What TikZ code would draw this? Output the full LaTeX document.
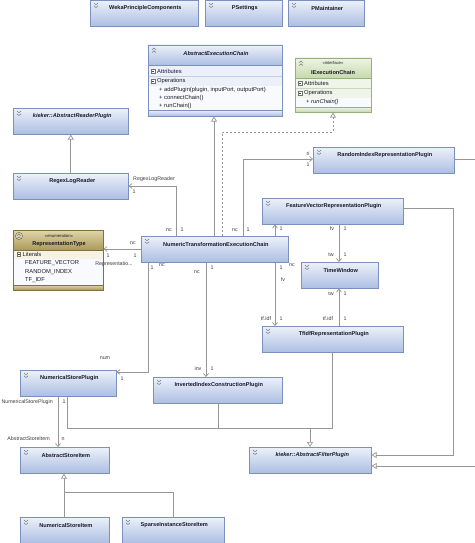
\documentclass[tikz,border=0pt]{standalone}
\usepackage{fontspec}
\setmainfont{Liberation Sans}
\usetikzlibrary{arrows.meta,calc}
\definecolor{bxtop}{RGB}{236,241,250}
\definecolor{bxbot}{RGB}{172,190,226}
\definecolor{bxline}{RGB}{124,144,190}
\definecolor{gntop}{RGB}{238,244,228}
\definecolor{gnbot}{RGB}{198,218,172}
\definecolor{gnline}{RGB}{150,176,126}
\definecolor{khtop}{RGB}{224,214,170}
\definecolor{khbot}{RGB}{170,154,90}
\definecolor{khline}{RGB}{128,114,60}
\definecolor{connc}{RGB}{150,150,150}
\definecolor{txt}{RGB}{25,25,40}
\definecolor{lbl}{RGB}{60,60,60}
\definecolor{bodyc}{RGB}{248,250,253}
\definecolor{rowc}{RGB}{236,240,248}
\definecolor{rowg}{RGB}{240,245,234}
\definecolor{rowk}{RGB}{246,242,228}
\tikzset{
 box/.style={draw=bxline, line width=0.6pt, top color=bxtop, bottom color=bxbot, inner sep=0pt, anchor=north west, minimum height=26pt},
 frame/.style={draw=#1, line width=0.6pt, inner sep=0pt, anchor=north west},
 cname/.style={font=\fontsize{5.6}{6.5}\selectfont\bfseries, text=txt, inner sep=0pt},
 iname/.style={font=\fontsize{5.6}{6.5}\selectfont\bfseries\itshape, text=txt, inner sep=0pt},
 stereo/.style={font=\fontsize{4.2}{5}\selectfont, text=txt, inner sep=0pt},
 lab/.style={font=\fontsize{5.3}{6}\selectfont, text=lbl, inner sep=0pt},
 member/.style={font=\fontsize{5.8}{6.5}\selectfont, text=txt, inner sep=0pt, anchor=west},
 chev/.style={draw=black!55, line width=0.45pt},
 connl/.style={draw=connc, line width=0.7pt},
 assoc/.style={connl, -{Straight Barb[length=3pt,width=5pt]}},
 gen/.style={connl, -{Triangle[open, length=5pt, width=6pt]}},
 real/.style={connl, dash pattern=on 2pt off 2pt, -{Triangle[open, length=5pt, width=6pt]}},
}
\newcommand\chevdown[2]{\draw[chev] ({#1+4},{#2+3}) -- ({#1+6},{#2+4.8}) -- ({#1+8},{#2+3}) ({#1+4},{#2+5.8}) -- ({#1+6},{#2+7.6}) -- ({#1+8},{#2+5.8});}
\newcommand\chevup[2]{\draw[chev] ({#1+4},{#2+4.8}) -- ({#1+6},{#2+3}) -- ({#1+8},{#2+4.8}) ({#1+4},{#2+7.6}) -- ({#1+6},{#2+5.8}) -- ({#1+8},{#2+7.6});}
\newcommand\minusicon[2]{\draw[black!55, line width=0.35pt, fill=white] ({#1-1.8},{#2-1.8}) rectangle ({#1+1.8},{#2+1.8}); \draw[black!70, line width=0.35pt] ({#1-1},{#2}) -- ({#1+1},{#2});}
\newcommand\umlcls[7]{%
 \node[box, minimum width=#4pt] (#1) at (#2,#3) {};
 \node[#6] (#1-t) at ($(#1.north)+(#7,8)$) {#5};
 \chevdown{#2}{#3}}
\begin{document}
\begin{tikzpicture}[x=1pt,y=-1pt]
\useasboundingbox[fill=white] (0,0) rectangle (474,543);

% ---------- simple classes ----------
\umlcls{wpc}{90}{0}{108}{WekaPrincipleComponents}{cname}{1}
\umlcls{ps}{205}{0}{77}{PSettings}{cname}{1}
\umlcls{pm}{288}{0}{76}{PMaintainer}{cname}{1}
\umlcls{arp}{13}{108}{115}{kieker::AbstractReaderPlugin}{iname}{1.5}
\umlcls{rlr}{13}{173}{115}{RegexLogReader}{cname}{1.5}
\umlcls{ntec}{141}{236}{147}{NumericTransformationExecutionChain}{cname}{1}
\umlcls{rirp}{313}{147}{141}{RandomIndexRepresentationPlugin}{cname}{1}
\umlcls{fvrp}{262}{198}{141}{FeatureVectorRepresentationPlugin}{cname}{1}
\umlcls{tw}{301}{262}{77}{TimeWindow}{cname}{1}
\umlcls{tfidf}{262}{326}{141}{TfIdfRepresentationPlugin}{cname}{1}
\umlcls{nsp}{20}{370}{96}{NumericalStorePlugin}{cname}{1}
\umlcls{iicp}{153}{377}{129}{InvertedIndexConstructionPlugin}{cname}{1}
\umlcls{asi}{20}{447}{89}{AbstractStoreItem}{cname}{1}
\umlcls{afp}{249}{447}{122}{kieker::AbstractFilterPlugin}{iname}{2}
\umlcls{nsi}{20}{517}{89}{NumericalStoreItem}{cname}{1}
\umlcls{sisi}{122}{517}{102}{SparseInstanceStoreItem}{cname}{1}

% ---------- AbstractExecutionChain ----------
\fill[bodyc] (148,45) rectangle (282,116);
\shade[top color=bxtop, bottom color=bxbot] (148,45) rectangle (282,65);
\fill[rowc] (148,66) rectangle (282,75.5);
\fill[rowc] (148,76.5) rectangle (282,86);
\draw[bxline!45, line width=0.4pt] (148,76) -- (282,76);
\shade[top color=bxtop, bottom color=bxbot] (148,110) rectangle (282,116);
\draw[bxline, line width=0.5pt] (148,65) -- (282,65) (148,110) -- (282,110);
\node[frame=bxline, minimum width=134pt, minimum height=71pt] (aec) at (148,45) {};
\chevup{148}{45}
\node[iname] (aec-t) at (216,53) {AbstractExecutionChain};
\minusicon{153}{71}
\node[member] (aec-a) at (157,71) {Attributes};
\minusicon{153}{81}
\node[member] (aec-o) at (157,81) {Operations};
\node[member] (aec-m1) at (159,90) {+ addPlugin(plugin, inputPort, outputPort)};
\node[member] (aec-m2) at (159,98) {+ connectChain()};
\node[member] (aec-m3) at (159,106) {+ runChain()};

% ---------- IExecutionChain ----------
\fill[bodyc] (295,58) rectangle (371,112);
\shade[top color=gntop, bottom color=gnbot] (295,58) rectangle (371,78);
\fill[rowg] (295,78.5) rectangle (371,88);
\fill[rowg] (295,88.5) rectangle (371,98);
\draw[gnline!50, line width=0.4pt] (295,88) -- (371,88);
\shade[top color=gntop, bottom color=gnbot] (295,107) rectangle (371,112);
\draw[gnline, line width=0.5pt] (295,78) -- (371,78) (295,107) -- (371,107);
\node[frame=gnline, minimum width=76pt, minimum height=54pt] (iec) at (295,58) {};
\chevup{295}{58}
\node[stereo] (iec-s) at (333,63) {«interface»};
\node[cname] (iec-t) at (333,72) {IExecutionChain};
\minusicon{300}{83}
\node[member] (iec-a) at (304,83) {Attributes};
\minusicon{300}{93}
\node[member] (iec-o) at (304,93) {Operations};
\node[member, font=\fontsize{5.8}{6.5}\selectfont\itshape] (iec-m1) at (306,102) {+ runChain()};

% ---------- RepresentationType ----------
\fill[bodyc] (13,230) rectangle (103,290);
\shade[top color=khtop, bottom color=khbot] (13,230) rectangle (103,250);
\fill[rowk] (13,250.5) rectangle (103,258.5);
\shade[top color=khtop, bottom color=khbot] (13,285) rectangle (103,290);
\draw[khline, line width=0.5pt] (13,250) -- (103,250) (13,285) -- (103,285);
\node[frame=khline, minimum width=90pt, minimum height=60pt] (rt) at (13,230) {};
\draw[black!60, line width=0.4pt, fill=khtop] (19,236) circle (3.6);
\chevup{13}{231}
\node[stereo] (rt-s) at (59,236) {«enumeration»};
\node[cname] (rt-t) at (59,244) {RepresentationType};
\minusicon{18.5}{254}
\node[member] (rt-l) at (22.5,254) {Literals};
\node[member] (rt-v1) at (25,263.5) {FEATURE\_VECTOR};
\node[member] (rt-v2) at (25,272) {RANDOM\_INDEX};
\node[member] (rt-v3) at (25,280.5) {TF\_IDF};

% ---------- named bend points ----------
\coordinate (g2) at (214,180);
\coordinate (r1) at (222,132);
\coordinate (r2) at (333,132);
\coordinate (a1) at (176,186);
\coordinate (a2) at (120,249);
\coordinate (a3) at (243,159);
\coordinate (a4) at (275,300);
\coordinate (a5) at (339,240);
\coordinate (a6) at (148,372);
\coordinate (a7) at (206,300);
\coordinate (a8) at (58,420);
\coordinate (g5) at (67,428);
\coordinate (g6) at (218,428);
\coordinate (g7) at (332,428);
\coordinate (m) at (310,428);
\coordinate (h1) at (453,208);
\coordinate (h2) at (453,455);
\coordinate (h3) at (490,159);
\coordinate (h4) at (490,466);
\coordinate (k1) at (64,492);
\coordinate (k2) at (173,492);

% ---------- connectors ----------
\draw[gen] (rlr.north) -- (arp.south);
\draw[gen] (ntec.north -| g2) -- (aec.south -| g2);
\draw[real] (ntec.north -| r1) -- (r1) -- (r2) -- (iec.south -| r2);
\draw[assoc] (ntec.north -| a1) -- (a1) -- (rlr.east |- a1);
\draw[assoc] (ntec.west |- a2) -- (rt.east |- a2);
\draw[assoc] (ntec.north -| a3) -- (a3) -- (rirp.west |- a3);
\draw[assoc] (ntec.north -| a4) -- (fvrp.south -| a4);
\draw[assoc] (fvrp.south -| a5) -- (tw.north -| a5);
\draw[assoc] (tfidf.north -| a5) -- (tw.south -| a5);
\draw[assoc] (ntec.south -| a4) -- (tfidf.north -| a4);
\draw[assoc] (ntec.south -| a6) -- (a6) -- (nsp.east |- a6);
\draw[assoc] (ntec.south -| a7) -- (iicp.north -| a7);
\draw[assoc] (nsp.south -| a8) -- (asi.north -| a8);
\draw[connl] (nsp.south -| g5) -- (g5) -- (m);
\draw[connl] (iicp.south -| g6) -- (g6);
\draw[connl] (tfidf.south -| g7) -- (g7) -- (m);
\draw[gen] (m) -- (afp.north -| m);
\draw[gen] (fvrp.east |- h1) -- (h1) -- (h2) -- (afp.east |- h2);
\draw[gen] (rirp.east |- h3) -- (h3) -- (h4) -- (afp.east |- h4);
\draw[gen] (nsi.north -| k1) -- (asi.south -| k1);
\draw[connl] (sisi.north -| k2) -- (k2) -- (k1);

% ---------- connector labels ----------
\node[lab] (l1) at (154,179) {RegexLogReader};
\node[lab] (l2) at (134,192) {1};
\node[lab] (l3) at (169,230) {nc};
\node[lab] (l4) at (182,230) {1};
\node[lab] (l5) at (133,243) {nc};
\node[lab] (l6) at (135,256) {1};
\node[lab] (l7) at (108,256) {1};
\node[lab] (l8) at (114,264) {Representatio...};
\node[lab] (l9) at (235,230) {nc};
\node[lab] (l10) at (248,230) {1};
\node[lab] (l11) at (308,154) {ri};
\node[lab] (l12) at (308,165) {1};
\node[lab] (l13) at (281,229) {1};
\node[lab] (l14) at (332,229) {fv};
\node[lab] (l15) at (345,229) {1};
\node[lab] (l16) at (331,255) {tw};
\node[lab] (l17) at (345,255) {1};
\node[lab] (l18) at (331,294) {tw};
\node[lab] (l19) at (345,294) {1};
\node[lab] (l20) at (328,319) {tf.idf};
\node[lab] (l21) at (345,319) {1};
\node[lab] (l22) at (281,268) {1};
\node[lab] (l23) at (292,265) {nc};
\node[lab] (l24) at (283,280) {fv};
\node[lab] (l25) at (266,319) {tf.idf};
\node[lab] (l26) at (281,319) {1};
\node[lab] (l27) at (152,268) {1};
\node[lab] (l28) at (162,265) {nc};
\node[lab] (l29) at (105,358) {num};
\node[lab] (l30) at (122,379) {1};
\node[lab] (l31) at (197,272) {nc};
\node[lab] (l32) at (212,268) {1};
\node[lab] (l33) at (198,369) {inv};
\node[lab] (l34) at (212,369) {1};
\node[lab, anchor=east] (l35) at (53,402) {NumericalStorePlugin};
\node[lab] (l36) at (64,402) {1};
\node[lab, anchor=east] (l37) at (50,439) {AbstractStoreItem};
\node[lab] (l38) at (63,439) {n};
\end{tikzpicture}
\end{document}
